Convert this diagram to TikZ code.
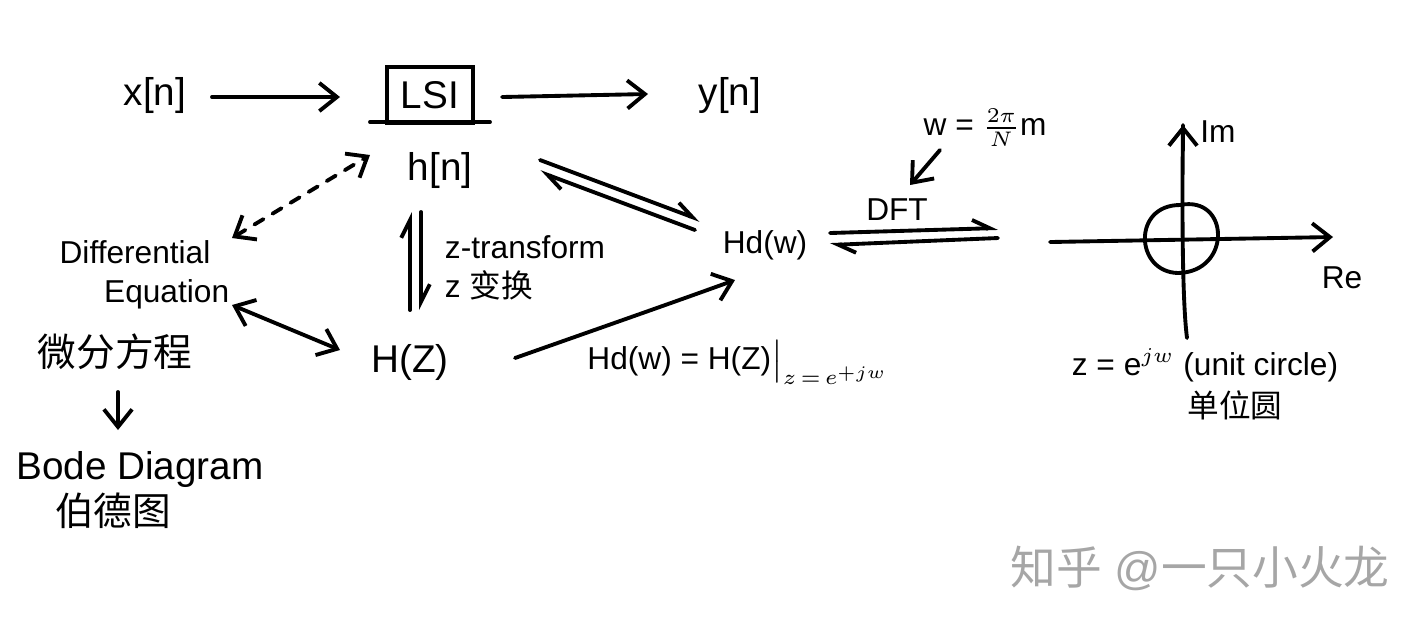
\documentclass[tikz,border=0pt]{standalone}
\usepackage{fontspec}
\setmainfont{Liberation Sans}
\newfontfamily\cjk{Noto Sans CJK SC}
\usetikzlibrary{arrows.meta}
\begin{document}
\begin{tikzpicture}[x=0.01cm,y=-0.01cm,line width=1.1pt,line cap=round,
  lbl/.style={font=\fontsize{11}{13}\selectfont,inner sep=1pt},
  sml/.style={font=\fontsize{9}{11}\selectfont,inner sep=1pt},
  arr/.style={-{Straight Barb[length=5pt,width=8pt]}},
  hl/.style={-{Straight Barb[left,length=5pt,width=5pt]}}]
\useasboundingbox (0,0) rectangle (1410,626);
\node[lbl] (x) at (155,95) {x[n]};
\node[lbl,draw,inner xsep=4pt,inner ysep=4pt] (lsi) at (430,95) {LSI};
\draw (370,122) -- (490,122);
\node[lbl] (y) at (730,95) {y[n]};
\node[lbl] (h) at (440,170) {h[n]};
\node[sml,align=center] (de) at (135,275) {Differential\\\hspace*{2em}Equation};
\node[lbl] (wf) at (115,352) {\cjk 微分方程};
\node[lbl,align=left] (bode) at (140,490) {Bode Diagram\\\hspace*{1em}{\cjk 伯德图}};
\node[lbl] (hz) at (410,362) {H(Z)};
\node[sml] (hd) at (765,245) {Hd(w)};
\node[sml,anchor=west] (form) at (582,362) {Hd(w) = H(Z)$\big|_{z\,=\,e^{+jw}}$};
\node[sml] (dft) at (897,210) {DFT};
\node[sml] (wn) at (985,128) {w = $\frac{2\pi}{N}$m};
\node[sml,align=left] (zt) at (525,268) {z-transform\\z {\cjk 变换}};
\node[sml] (im) at (1218,132) {Im};
\node[sml] (re) at (1342,278) {Re};
\node[sml] (zu) at (1205,365) {z = e$^{jw}$ (unit circle)};
\node[sml] (dy) at (1235,405) {\cjk 单位圆};
\node[font=\fontsize{13}{15}\selectfont,text=black!35] (wm) at (1200,568) {{\cjk 知乎} @{\cjk 一只小火龙}};
\coordinate (a1) at (212,97); \coordinate (a2) at (340,97);
\coordinate (b1) at (502,97); \coordinate (b2) at (648,94);
\draw[arr] (a1) -- (a2);
\draw[arr] (b1) -- (b2);
\draw[dashed,{Straight Barb[length=5pt,width=8pt]}-{Straight Barb[length=5pt,width=8pt]}] (232,238) -- (370,155);
\draw[{Straight Barb[length=5pt,width=8pt]}-{Straight Barb[length=5pt,width=8pt]}] (232,305) -- (340,350);
\draw[arr] (118,392) -- (118,430);
\draw[arr] (515,358) .. controls (600,328) and (680,300) .. (735,280);
\draw[hl] (410,310) -- (410,212);
\draw[hl] (421,212) -- (421,310);
\draw[hl] (540,160) -- (700,220);
\draw[hl] (695,230) -- (540,172);
\draw[hl] (830,233) -- (998,228);
\draw[hl] (998,238) -- (830,245);
\draw[arr] (940,150) -- (910,185);
\draw[arr] (1050,242) -- (1333,237);
\draw (1187,338) .. controls (1182,300) and (1182,200) .. (1183,125);
\draw[arr] (1183,150) -- (1183,125);
\draw (1180,205) .. controls (1230,195) and (1232,272) .. (1178,273) .. controls (1135,272) and (1132,205) .. cycle;
\end{tikzpicture}
\end{document}
